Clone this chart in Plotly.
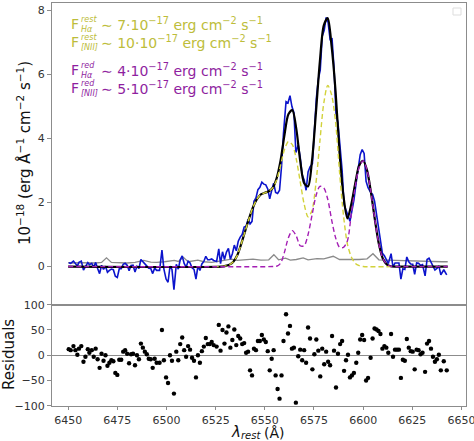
import plotly.graph_objects as go

# ---------------- data ----------------
WAVE = [6450.3, 6451.3, 6452.7, 6453.7, 6454.7, 6455.5, 6456.7, 6457.8, 6458.8, 6460.0,
        6460.8, 6462.0, 6463.0, 6464.0, 6465.0, 6466.0, 6467.0, 6468.0, 6469.0, 6470.0,
        6471.0, 6472.0, 6473.0, 6474.0, 6475.0, 6476.0, 6477.0, 6478.0, 6479.0, 6480.0,
        6481.0, 6482.0, 6483.0, 6484.0, 6485.0, 6486.0, 6487.0, 6488.0, 6489.0, 6490.0,
        6491.0, 6492.0, 6493.0, 6494.0, 6495.0, 6496.5, 6497.7, 6498.7, 6499.8, 6500.8,
        6501.8, 6502.8, 6503.8, 6505.0, 6506.0, 6507.0, 6508.0, 6509.0, 6510.0, 6511.0,
        6512.0, 6513.0, 6514.0, 6515.0, 6516.0, 6517.0, 6518.0, 6519.0, 6520.0, 6521.0,
        6522.0, 6523.0, 6524.0, 6525.5, 6526.6, 6527.5, 6528.5, 6529.5, 6530.5, 6531.5,
        6532.5, 6533.5, 6534.5, 6535.5, 6536.5, 6537.5, 6538.5, 6539.5, 6540.5, 6541.5,
        6542.5, 6543.5, 6544.5, 6545.5, 6546.5, 6547.5, 6548.5, 6549.5, 6550.5, 6551.5,
        6552.5, 6553.5, 6554.5, 6555.5, 6556.5, 6557.5, 6558.5, 6559.5, 6560.8, 6561.8,
        6562.8, 6563.8, 6564.8, 6565.8, 6567.0, 6568.0, 6569.0, 6570.0, 6571.0, 6572.0,
        6573.0, 6574.2, 6575.2, 6576.2, 6577.2, 6578.2, 6579.2, 6580.2, 6581.2, 6582.2,
        6583.2, 6584.2, 6585.2, 6586.2, 6587.2, 6588.3, 6589.3, 6590.3, 6591.3, 6592.3,
        6593.3, 6594.3, 6595.3, 6596.5, 6597.5, 6598.5, 6599.5, 6600.5, 6601.5, 6602.5,
        6603.8, 6604.8, 6605.8, 6606.8, 6607.8, 6608.8, 6609.8, 6610.8, 6611.8, 6612.8,
        6614.2, 6615.2, 6616.2, 6617.2, 6618.2, 6619.2, 6620.2, 6621.2, 6622.2, 6623.2,
        6624.2, 6625.2, 6626.2, 6627.2, 6628.2, 6629.2, 6630.2, 6631.5, 6632.5, 6633.5,
        6634.5, 6635.5, 6636.5, 6637.5, 6638.5, 6639.5, 6641.0, 6642.5]

FLUX = [0.12, 0.10, 0.17, 0.10, 0.02, 0.13, 0.17, -0.11, -0.02, 0.12,
        0.06, 0.10, -0.02, 0.13, -0.06, -0.22, 0.04, -0.09, 0.01, -0.18,
        -0.12, -0.08, -0.10, -0.30, -0.34, -0.07, -0.07, 0.07, 0.10, 0.04,
        -0.13, 0.03, 0.04, -0.17, 0.01, -0.06, 0.22, 0.15, 0.07, 0.03,
        -0.05, -0.06, -0.22, -0.05, -0.12, -0.12, 0.51, -0.08, -0.39, -0.49,
        0.01, -0.09, -0.72, 0.07, -0.08, 0.21, 0.33, 0.10, -0.02, 0.17,
        0.11, -0.04, -0.09, -0.39, 0.01, -0.12, 0.08, 0.16, 0.32, 0.21,
        0.21, 0.24, 0.19, 0.16, 0.55, 0.09, 0.46, 0.22, 0.45, 0.57,
        0.23, 0.40, 0.67, 0.49, 0.79, 0.92, 1.00, 1.23, 1.26, 1.47,
        1.33, 1.41, 2.04, 2.14, 2.40, 2.47, 2.63, 2.57, 2.55, 2.42,
        2.11, 2.37, 2.60, 2.31, 2.28, 2.38, 3.12, 4.16, 5.14, 5.10,
        5.33, 4.99, 4.80, 3.56, 3.79, 3.41, 2.86, 2.70, 2.38, 2.95,
        3.11, 3.21, 4.23, 5.24, 5.84, 6.13, 7.18, 7.37, 7.77, 7.61,
        7.08, 7.10, 6.19, 4.78, 4.49, 3.71, 3.01, 1.93, 1.72, 1.59,
        1.41, 1.70, 2.07, 2.63, 3.06, 3.49, 3.65, 3.53, 2.66, 2.46,
        2.32, 2.25, 2.04, 1.62, 1.21, 0.89, 0.41, 0.34, 0.22, 0.09,
        0.40, -0.02, 0.11, 0.11, 0.11, -0.39, -0.07, -0.09, 0.30, 0.15,
        0.08, 0.07, -0.24, 0.11, 0.10, 0.03, 0.06, -0.29, 0.22, 0.26,
        0.13, -0.02, -0.11, -0.06, 0.02, -0.26, -0.10, -0.26]

RESID = [12, 10, 18, 10, 1, 13, 18, -13, -3, 12,
         5, 10, -3, 13, -8, -25, 3, -11, 0, -21,
         -15, -10, -12, -35, -39, -9, -9, 7, 10, 3,
         -16, 2, 3, -20, 0, -8, 23, 15, 7, 2,
         -7, -8, -25, -7, -15, -15, 50, -10, -44, -55,
         0, -11, -76, 7, -10, 22, 35, 10, -3, 18,
         11, -5, -11, -44, 0, -15, 8, 17, 34, 22,
         22, 26, 20, 17, 60, 9, 50, 23, 45, 57,
         15, 30, 51, 20, 38, 33, 22, 24, 5, 7,
         -30, -40, 13, 10, 28, 28, 40, 31, 26, 8,
         -30, -7, 10, -40, -67, -86, -40, 28, 81, 43,
         58, 13, 15, -94, -2, 11, -10, 10, -15, 55,
         33, -28, 2, 31, 9, -42, 13, -18, 7, -13,
         -20, 38, 9, -64, 3, 22, 28, -31, -10, 1,
         -44, -40, -35, -15, 5, 31, 40, 30, -50, -45,
         -5, 33, 53, 51, 48, 42, 13, 18, 15, 5,
         42, -3, 11, 11, 11, -45, -9, -11, 32, 15,
         8, 7, -28, 11, 10, 2, 5, -33, 23, 28,
         13, -3, -13, -8, 1, -30, -12, -30]

# total model (black)
MODEL_WAVE = [6450, 6528, 6530, 6532, 6534, 6536, 6538, 6540, 6542, 6544, 6546, 6548,
              6550, 6552, 6554, 6556, 6558, 6560, 6562, 6564, 6566, 6568, 6570, 6572,
              6574, 6576, 6578, 6580, 6582, 6584, 6586, 6588, 6590, 6592, 6594, 6596,
              6598, 6600, 6602, 6604, 6606, 6608, 6610, 6612, 6614, 6616, 6643]
MODEL_TOTAL = [0, 0, 0.02, 0.06, 0.15, 0.35, 0.70, 1.10, 1.50, 1.85, 2.10, 2.25,
               2.30, 2.35, 2.45, 2.75, 3.30, 4.10, 4.75, 4.88, 4.30, 3.30, 2.60, 2.50,
               3.30, 4.80, 6.40, 7.52, 7.75, 6.85, 5.45, 3.55, 2.20, 1.50, 1.95, 2.60,
               3.15, 3.30, 3.00, 2.30, 1.45, 0.70, 0.25, 0.07, 0.01, 0, 0]

# rest-frame components (yellow dashed)
REST_WAVE = [6524, 6528, 6530, 6532, 6534, 6536, 6538, 6540, 6542, 6544, 6546, 6548,
             6550, 6552, 6554, 6556, 6558, 6560, 6562, 6564, 6566, 6568, 6570, 6572,
             6574, 6576, 6578, 6580, 6582, 6584, 6586, 6588, 6590, 6592, 6594, 6596,
             6598, 6600, 6616]
REST_MODEL = [0, 0, 0.02, 0.06, 0.15, 0.35, 0.70, 1.10, 1.50, 1.85, 2.10, 2.25,
              2.30, 2.35, 2.45, 2.70, 3.15, 3.65, 3.90, 3.80, 3.35, 2.65, 1.95, 1.55,
              1.75, 2.60, 3.90, 5.10, 5.65, 5.35, 4.50, 2.95, 1.60, 0.70, 0.30, 0.10,
              0.03, 0, 0]

# redshifted components (purple dashed)
RED_WAVE = [6450, 6554, 6556, 6558, 6560, 6562, 6564, 6566, 6568, 6570, 6572, 6574,
            6576, 6578, 6580, 6582, 6584, 6586, 6588, 6590, 6592, 6594, 6596, 6598,
            6600, 6602, 6604, 6606, 6608, 6610, 6612, 6614, 6616, 6643]
RED_MODEL = [0, 0, 0.01, 0.10, 0.45, 0.90, 1.12, 0.95, 0.65, 0.65, 1.00, 1.60,
             2.20, 2.50, 2.45, 2.10, 1.45, 0.90, 0.60, 0.60, 0.80, 1.65, 2.50, 3.10,
             3.30, 3.00, 2.30, 1.45, 0.70, 0.25, 0.07, 0.01, 0, 0]

# noise spectrum (gray)
ERR_WAVE = [6450, 6452, 6456, 6460, 6464, 6467, 6469.5, 6472, 6476, 6480, 6484, 6488.5,
            6492, 6495, 6499, 6504, 6506, 6508.6, 6511, 6514, 6516, 6519, 6523, 6527,
            6530, 6533, 6536, 6540, 6544, 6548, 6552, 6554.6, 6557, 6560.5, 6563, 6566,
            6569.5, 6572, 6576.5, 6580, 6582.5, 6584.8, 6588, 6592, 6595, 6598, 6602,
            6605, 6608, 6612, 6616, 6620, 6625, 6630, 6635, 6640, 6643]
ERR = [0.12, 0.11, 0.12, 0.11, 0.11, 0.13, 0.27, 0.13, 0.11, 0.11, 0.13, 0.19,
       0.14, 0.13, 0.15, 0.19, 0.16, 0.29, 0.15, 0.17, 0.20, 0.15, 0.13, 0.17,
       0.19, 0.23, 0.19, 0.20, 0.23, 0.20, 0.21, 0.37, 0.21, 0.26, 0.20, 0.22,
       0.27, 0.21, 0.25, 0.24, 0.27, 0.32, 0.22, 0.21, 0.22, 0.22, 0.24,
       0.40, 0.21, 0.20, 0.19, 0.18, 0.17, 0.16, 0.16, 0.15, 0.15]

X_TICKS = [6450, 6475, 6500, 6525, 6550, 6575, 6600, 6625, 6650]
Y_TICKS_TOP = [0, 2, 4, 6, 8]
Y_TICKS_RES = [-100, -50, 0, 50, 100]

# ---------------- styling helpers ----------------
W, H = 474, 441
FONT = "DejaVu Sans"
SPINE = "#8c8c8c"
OLIVE_TXT = "#bdbd3a"
PURPLE_TXT = "#8f1f9f"


def fx(px):
    return px / W


def fy(py):
    return 1 - py / H


fig = go.Figure()

fig.add_trace(go.Scatter(x=ERR_WAVE, y=ERR, mode="lines",
                         line=dict(color="#8a8a8a", width=1.3), xaxis="x", yaxis="y"))
fig.add_trace(go.Scatter(x=WAVE, y=FLUX, mode="lines",
                         line=dict(color="#0c14cc", width=1.6), xaxis="x", yaxis="y"))
fig.add_trace(go.Scatter(x=MODEL_WAVE, y=MODEL_TOTAL, mode="lines",
                         line=dict(color="#000000", width=2.2, shape="spline", smoothing=0.8),
                         xaxis="x", yaxis="y"))
fig.add_trace(go.Scatter(x=REST_WAVE, y=REST_MODEL, mode="lines",
                         line=dict(color="#d2d23a", width=1.4, dash="5px,3px",
                                   shape="spline", smoothing=0.8),
                         xaxis="x", yaxis="y"))
fig.add_trace(go.Scatter(x=RED_WAVE, y=RED_MODEL, mode="lines",
                         line=dict(color="#a41fb4", width=1.4, dash="5px,3px",
                                   shape="spline", smoothing=0.8),
                         xaxis="x", yaxis="y"))
fig.add_trace(go.Scatter(x=WAVE, y=RESID, mode="markers",
                         marker=dict(color="#000000", size=4.4),
                         xaxis="x2", yaxis="y2"))

xdom = [fx(52), fx(466)]
xrange_ = [6441.8, 6652.3]
tickfont = dict(family=FONT, size=11, color="#333333")

fig.update_layout(
    width=W, height=H,
    margin=dict(l=0, r=0, t=0, b=0),
    paper_bgcolor="white", plot_bgcolor="white",
    showlegend=False,
    font=dict(family=FONT),
    xaxis=dict(domain=xdom, range=xrange_, anchor="y", showticklabels=False,
               ticks="", showline=True, mirror=True, linecolor=SPINE, linewidth=1.3,
               showgrid=False, zeroline=False, automargin=False),
    yaxis=dict(domain=[fy(304.7), fy(3)], range=[-1.19, 8.22], anchor="x",
               tickvals=Y_TICKS_TOP, ticks="outside", ticklen=4, tickcolor=SPINE,
               tickfont=tickfont, showline=True, mirror=True, linecolor=SPINE,
               linewidth=1.3, showgrid=False, zeroline=False, automargin=False),
    xaxis2=dict(domain=xdom, range=xrange_, anchor="y2", tickvals=X_TICKS,
                ticks="outside", ticklen=3.5, tickcolor=SPINE, tickfont=tickfont,
                ticklabeloverflow="allow",
                showline=True, mirror=True, linecolor=SPINE, linewidth=1.3,
                showgrid=False, zeroline=False, automargin=False),
    yaxis2=dict(domain=[fy(405.7), fy(304.7)], range=[-100, 100], anchor="x2",
                tickvals=Y_TICKS_RES, ticks="outside", ticklen=4, tickcolor=SPINE,
                tickfont=tickfont, showline=True, mirror=True, linecolor=SPINE,
                linewidth=1.3, showgrid=False, zeroline=True, zerolinecolor=SPINE,
                zerolinewidth=1.3, automargin=False),
)

ann = []


def add_text(text, px, py, size, color, anchor="left", angle=0):
    ann.append(dict(text=text, x=fx(px), y=fy(py), xref="paper", yref="paper",
                    xanchor=anchor, yanchor="middle", showarrow=False, textangle=angle,
                    borderpad=0, align="left",
                    font=dict(family=FONT, size=size, color=color)))


# flux labels
lines = [
    ("rest", "Hα", "∼ 7·10<sup>−17</sup> erg cm<sup>−2</sup> s<sup>−1</sup>", 24, OLIVE_TXT),
    ("rest", "[NII]", "∼ 10·10<sup>−17</sup> erg cm<sup>−2</sup> s<sup>−1</sup>", 42, OLIVE_TXT),
    ("red", "Hα", "∼ 4·10<sup>−17</sup> erg cm<sup>−2</sup> s<sup>−1</sup>", 70, PURPLE_TXT),
    ("red", "[NII]", "∼ 5·10<sup>−17</sup> erg cm<sup>−2</sup> s<sup>−1</sup>", 88, PURPLE_TXT),
]
for sup, sub, main, yc, col in lines:
    add_text("F", 70, yc, 14, col)
    add_text("<i>%s</i><br><i>%s</i>" % (sup, sub), 80, yc + 0.5, 8, col)
    add_text(main, 100, yc, 14, col)

# axis titles
add_text("10<sup>−18</sup> (erg Å<sup>−1</sup> cm<sup>−2</sup> s<sup>−1</sup>)",
         24, 153, 15, "#111111", anchor="center", angle=-90)
add_text("Residuals", 9, 355, 15, "#111111", anchor="center", angle=-90)
add_text("<i>λ</i>", 230, 432, 15, "#111111")
add_text("<i>rest</i>", 240, 435.5, 10, "#111111")
add_text("(Å)", 263, 432.5, 14, "#111111")

fig.update_layout(annotations=ann)

# empty legend frame at top right
fig.add_shape(type="rect", xref="paper", yref="paper",
              x0=fx(453), x1=fx(461), y0=fy(15), y1=fy(8),
              line=dict(color="#dddddd", width=1), fillcolor="white")

fig.write_html("out.html")
